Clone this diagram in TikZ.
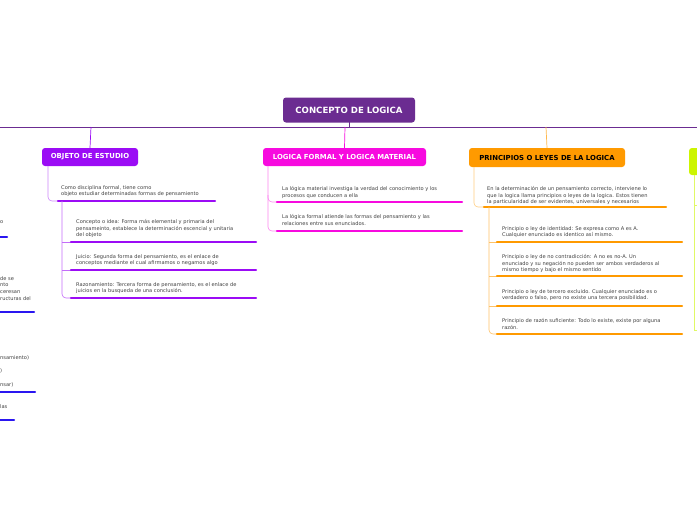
\documentclass[tikz,border=0pt]{standalone}
\usepackage{fontspec}
\setmainfont{DejaVu Sans}
\begin{document}
\begin{tikzpicture}[x=1pt,y=-1pt,
  txt/.style={anchor=north west,inner sep=0pt,align=left,font=\fontsize{5.1}{6.8}\selectfont,text=black!75},
  hdr/.style={rounded corners=3pt,inner sep=0pt,font=\fontsize{6.9}{8}\selectfont\bfseries,text=white},
  ul/.style={line width=2.2pt,line cap=round}]
\useasboundingbox (0,0) rectangle (697,520);
\clip (0,0) rectangle (697,520);
\definecolor{rootc}{HTML}{6B2C91}
\definecolor{cobj}{HTML}{9B0CF5}
\definecolor{clog}{HTML}{F70ADF}
\definecolor{cpri}{HTML}{FF9A00}
\definecolor{clim}{HTML}{CCF500}
\definecolor{cblu}{HTML}{2A16F0}
% top bus
\draw[rootc,line width=0.8pt] (0,127) -- (697,127);
\draw[rootc,line width=0.8pt] (349,122) -- (349,127);
\node[hdr,fill=rootc,minimum width=132,minimum height=25,font=\fontsize{8.6}{10}\selectfont\bfseries] (root) at (349,110) {CONCEPTO DE LOGICA};
% branch headers
\node[hdr,fill=cobj,minimum width=96,minimum height=18] (obj) at (90,157) {OBJETO DE ESTUDIO};
\node[hdr,fill=clog,minimum width=163,minimum height=18] (log) at (344.5,157) {LOGICA FORMAL Y LOGICA MATERIAL};
\node[hdr,fill=cpri,minimum width=156,minimum height=19,text=black] (pri) at (547,157.5) {PRINCIPIOS O LEYES DE LA LOGICA};
\node[hdr,fill=clim,minimum width=20,minimum height=27] (lim) at (699,161.5) {};
\draw[cobj,line width=0.7pt] (obj.north) -- (91,127);
\draw[clog,line width=0.7pt] (log.north) -- (345,127);
\draw[cpri!70,line width=0.7pt] (pri.north) -- (546,127);
% OBJETO
\draw[cobj!50,line width=0.6pt,rounded corners=4pt] (48,166) -- (48,201) -- (58,201);
\draw[cobj,ul] (58,201) -- (215,201);
\node[txt] (o1) at (61,185) {Como disciplina formal, tiene como\\objeto estudiar determinadas formas de pensamiento};
\draw[cobj!60,line width=0.6pt,rounded corners=4pt] (62,201) -- (62,298) -- (71,298);
\draw[cobj!60,line width=0.6pt] (62,242) -- (71,242) (62,270) -- (71,270);
\node[txt] (o2) at (76,219) {Concepto o idea: Forma más elemental y primaria del\\pensameinto, establece la determinación escencial y unitaria\\del objeto};
\draw[cobj,ul] (71,242) -- (256,242);
\node[txt] (o3) at (76,254) {Juicio: Segunda forma del pensamiento, es el enlace de\\conceptos mediante el cual afirmamos o negamos algo};
\draw[cobj,ul] (71,270) -- (256,270);
\node[txt] (o4) at (76,282) {Razonamiento: Tercera forma de pensamiento, es el enlace de\\juicios en la busqueda de una conclusión.};
\draw[cobj,ul] (71,298) -- (256,298);
% LOGICA
\draw[clog!50,line width=0.6pt,rounded corners=4pt] (268,166) -- (268,231) -- (277,231);
\draw[clog!50,line width=0.6pt,rounded corners=4pt] (268,195) -- (268,202) -- (277,202);
\node[txt] (l1) at (282,186) {La lógica material investiga la verdad del conocimiento y los\\procesos que conducen a ella};
\draw[clog,ul] (277,202) -- (462,202);
\node[txt] (l2) at (282,214) {La lógica formal atiende las formas del pensamiento y las\\relaciones entre sus enunciados.};
\draw[clog,ul] (277,231) -- (462,231);
% PRINCIPIOS
\draw[cpri!50,line width=0.6pt,rounded corners=4pt] (474,167) -- (474,207) -- (484,207);
\draw[cpri,ul] (484,207) -- (666,207);
\node[txt] (p1) at (487,186) {En la determinación de un pensamiento correcto, interviene lo\\que la logica llama principios o leyes de la logica. Estos tienen\\la particularidad de ser evidentes, universales y necesarios};
\draw[cpri!60,line width=0.6pt,rounded corners=4pt] (489,207) -- (489,334) -- (497,334);
\draw[cpri!60,line width=0.6pt] (489,242) -- (497,242) (489,276) -- (497,276) (489,306) -- (497,306);
\node[txt] (p2) at (502,226) {Principio o ley de identidad: Se expresa como A es A.\\Cualquier enunciado es identico así mismo.};
\draw[cpri,ul] (497,242) -- (682,242);
\node[txt] (p3) at (502,254) {Principio o ley de no contradicción: A no es no-A. Un\\enunciado y su negación no pueden ser ambos verdaderos al\\mismo tiempo y bajo el mismo sentido};
\draw[cpri,ul] (497,276) -- (682,276);
\node[txt] (p4) at (502,289) {Principio o ley de tercero excluido. Cualquier enunciado es o\\verdadero o falso, pero no existe una tercera posibilidad.};
\draw[cpri,ul] (497,306) -- (682,306);
\node[txt] (p5) at (502,318) {Principio de razón suficiente: Todo lo existe, existe por alguna\\razón.};
\draw[cpri,ul] (497,334) -- (682,334);
% right lime branch
\draw[clim!60,line width=0.6pt] (694,175) -- (694,330);
\draw[clim!60,line width=0.6pt] (694,205) -- (697,205) (694,330) -- (697,330);
% left blue fragments
\node[txt] (b1) at (0,220) {o};
\draw[cblu,ul] (-5,237) -- (7,237);
\node[txt] (b2) at (0,276) {de se\\nto\\ceresan\\ructuras del};
\draw[cblu,ul] (-5,312) -- (34,312);
\node[txt] (b3) at (0,355) {nsamiento)};
\node[txt] (b4) at (0,368) {)};
\node[txt] (b5) at (0,382) {nsar)};
\draw[cblu,ul] (-5,392) -- (35,392);
\node[txt] (b6) at (0,404) {las};
\draw[cblu,ul] (-5,420) -- (14,420);
\end{tikzpicture}
\end{document}
